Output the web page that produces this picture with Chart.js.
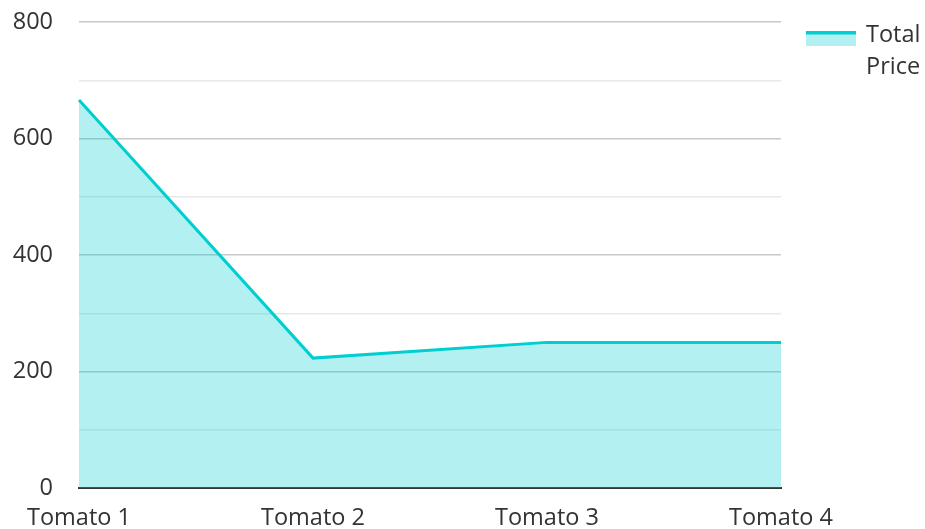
<!DOCTYPE html>
<html>
<head>
<meta charset="utf-8">
<script src="https://cdn.jsdelivr.net/npm/chart.js@4"></script>
<style>
html,body{margin:0;padding:0;background:#fff;}
#wrap{width:925px;height:529px;}
</style>
</head>
<body>
<div id="wrap"><canvas id="c" width="925" height="529"></canvas></div>
<script>
const categories = ["Tomato 1", "Tomato 2", "Tomato 3", "Tomato 4"];
const totalPrice = [666, 223, 250, 250];
const seriesLabel = ["Total", "Price"];
const yTicks = [0, 200, 400, 600, 800];

const LINE = "rgb(0,206,209)";
const FILL = "rgba(0,206,209,0.3)";
const FONT = "'Open Sans', 'Noto Sans', sans-serif";
const TEXT = "#333333";
const FS = 23.5;

const legendPlugin = {
  id: "customLegend",
  afterDraw(chart) {
    const ctx = chart.ctx;
    const ds = chart.data.datasets[0];
    ctx.save();
    const bx = 806, by = 31, bw = 50, bh = 15;
    ctx.fillStyle = ds.backgroundColor;
    ctx.fillRect(bx, by, bw, bh);
    ctx.fillStyle = ds.borderColor;
    ctx.fillRect(bx, by, bw, 3.5);
    ctx.fillStyle = TEXT;
    ctx.font = FS + "px " + FONT;
    ctx.textBaseline = "alphabetic";
    ctx.textAlign = "left";
    const lines = Array.isArray(ds.label) ? ds.label : [ds.label];
    lines.forEach((t, i) => ctx.fillText(t, 866, 42 + i * 31.5));
    ctx.restore();
  }
};

new Chart(document.getElementById("c"), {
  type: "line",
  data: {
    labels: categories,
    datasets: [{
      label: seriesLabel,
      data: totalPrice,
      borderColor: LINE,
      backgroundColor: FILL,
      borderWidth: 3,
      fill: "origin",
      tension: 0,
      pointRadius: 0,
      pointHoverRadius: 0
    }]
  },
  options: {
    responsive: false,
    animation: false,
    events: [],
    layout: { padding: { left: 12, right: 144, top: 22, bottom: 0 } },
    plugins: { legend: { display: false }, tooltip: { enabled: false } },
    scales: {
      x: {
        offset: false,
        grid: { display: false, drawTicks: false },
        border: { display: true, color: "#333333", width: 2 },
        ticks: { color: TEXT, font: { family: FONT, size: FS }, padding: 16, maxRotation: 0, autoSkip: false },
        afterFit(s) { s.paddingLeft = 0; s.paddingRight = 0; s.height = 41; }
      },
      y: {
        min: 0, max: 800,
        grid: {
          drawTicks: false,
          color: (c) => (c.tick && c.tick.value % 200 === 0) ? "#c8c8c8" : "#e8e8e8",
          lineWidth: 1.5
        },
        border: { display: false },
        ticks: {
          stepSize: 100,
          color: TEXT,
          font: { family: FONT, size: FS },
          padding: 26,
          callback: (v) => yTicks.includes(v) ? String(v) : ""
        },
        afterFit(s) { s.paddingTop = 0; s.paddingBottom = 0; s.width = 67; }
      }
    }
  },
  plugins: [legendPlugin]
});
</script>
</body>
</html>
